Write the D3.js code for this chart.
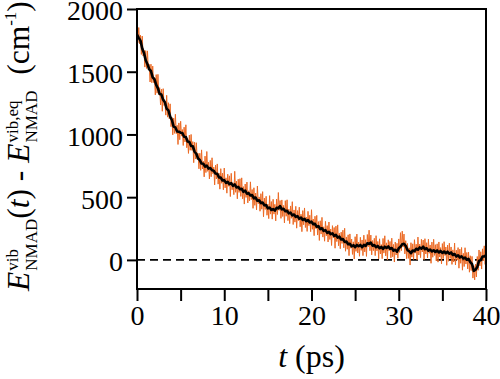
<!DOCTYPE html>
<html><head><meta charset="utf-8">
<script src="https://cdn.jsdelivr.net/npm/d3@7"></script>
<style>html,body{margin:0;padding:0;background:#fff}svg{display:block}</style>
</head><body>
<svg id="c" width="500" height="379"></svg>
<script>
const FONT = "'Liberation Serif','Times New Roman',serif";
// Time grids (ps)
const tStepBlack = 0.2;
const tStepOrange = 0.1;
// Smoothed (black) series, every 0.2 ps from 0 to 40
const blackValues = [1795,1770,1748,1685,1650,1592,1560,1520,1506,1455,
1440,1395,1368,1322,1318,1276,1256,1205,1192,1142,
1115,1062,1056,1024,1022,1014,1012,982,980,944,
940,908,906,862,846,808,796,768,766,744,
752,728,732,714,711,688,686,658,656,633,
636,614,622,603,612,590,602,578,582,563,
567,543,552,528,532,513,517,491,497,471,
475,453,457,435,437,411,417,398,405,393,
415,411,429,403,407,388,392,371,377,355,
362,343,349,328,337,318,327,308,317,298,
305,285,287,263,269,245,252,231,237,215,
224,205,212,191,199,178,185,163,167,143,
147,125,129,108,117,101,119,109,119,101,
119,111,132,128,137,113,119,101,111,93,
103,87,105,95,107,89,95,73,81,65,
92,104,125,128,112,78,69,53,75,69,
89,81,99,89,105,85,93,73,83,67,
77,63,75,59,71,55,67,53,65,49,
59,39,47,27,37,19,29,11,19,1,
9,-17,-33,-87,-78,-57,-8,-2,27,28,37];
// Raw (orange) series, every 0.1 ps from 0 to 40
const orangeValues = [1824,1731,1852,1723,1791,1638,1784,1625,1671,1537,1668,1526,1666,1515,1559,1418,1560,1412,1545,1413,
1452,1315,1477,1329,1479,1320,1373,1235,1361,1185,1365,1231,1259,1154,1312,1138,1253,1125,1244,1062,
1136,997,1130,1009,1161,1006,1073,920,1092,958,1105,987,1039,912,1058,940,1077,894,967,849,
995,874,1000,873,943,775,938,804,934,802,849,726,850,714,877,725,786,662,827,696,
864,706,778,645,793,663,814,687,739,598,755,645,765,604,691,564,727,611,691,559,
732,574,654,532,683,587,670,505,690,559,615,520,706,539,628,487,643,538,647,506,
654,487,584,445,605,498,620,454,551,471,622,481,561,411,575,435,533,399,589,448,
502,388,528,404,544,344,493,402,507,356,444,329,512,365,465,325,483,365,443,311,
485,362,537,395,473,331,478,346,434,295,472,348,479,313,404,289,430,332,464,282,
398,301,427,253,393,313,420,264,364,225,393,280,414,258,341,227,387,273,356,225,
400,244,326,193,348,250,355,198,305,155,312,206,339,182,264,149,307,192,273,143,
302,163,246,115,273,176,258,93,269,146,279,113,212,89,221,131,237,96,252,69,
183,85,200,34,207,93,166,44,144,7,185,68,206,55,142,29,180,76,159,34,
197,64,161,28,202,105,237,73,198,40,154,74,172,34,193,72,147,9,168,47,
122,10,171,54,192,32,136,-1,160,73,147,16,173,25,123,-17,142,39,132,13,
167,60,217,74,229,102,206,48,153,10,131,12,96,-41,137,22,128,4,161,54,
125,0,182,39,126,18,164,63,158,2,169,47,137,15,165,53,119,-27,142,21,
164,36,121,-8,128,-18,143,23,98,-31,130,10,145,35,103,-43,118,-11,133,12,
103,-36,80,-17,134,-40,77,-2,98,-66,86,-27,99,-82,52,-53,97,-33,59,-72,
62,-98,33,-85,28,-145,-46,-159,-34,-136,27,-83,79,-48,65,-73,88,-7,112,-36,64];
const yTicks = [0,500,1000,1500,2000];
const xTicks = [0,5,10,15,20,25,30,35,40];
const xTickLabels = ["0","","10","","20","","30","","40"];

const blackData = blackValues.map((v,i)=>({t:i*tStepBlack, v}));
const orangeData = orangeValues.map((v,i)=>({t:i*tStepOrange, v}));

const svg = d3.select("#c");
const L=137, R=486, T=9, B=289;
const x = d3.scaleLinear().domain([0,40]).range([L,R]);
const y = d3.scaleLinear().domain([-232,2000]).range([B,T]);

// zero line
svg.append("line").attr("x1",x(0)).attr("x2",x(40)).attr("y1",y(0)).attr("y2",y(0))
  .attr("stroke","#000").attr("stroke-width",1.6).attr("stroke-dasharray","8,5");

const line = d3.line().x(d=>x(d.t)).y(d=>y(d.v));
svg.append("path").datum(orangeData).attr("d",line).attr("fill","none")
  .attr("stroke","#ec6a24").attr("stroke-width",1).attr("stroke-linejoin","round");
svg.append("path").datum(blackData).attr("d",line).attr("fill","none")
  .attr("stroke","#000").attr("stroke-width",2.6).attr("stroke-linejoin","round");

// frame
svg.append("rect").attr("x",L).attr("y",T).attr("width",R-L).attr("height",B-T)
  .attr("fill","none").attr("stroke","#000").attr("stroke-width",2);

// axes
const xAxis = d3.axisBottom(x).tickValues(xTicks).tickSize(12).tickSizeOuter(0).tickPadding(4)
  .tickFormat((d,i)=>xTickLabels[i]);
const gx = svg.append("g").attr("transform",`translate(0,${B})`).call(xAxis);
gx.attr("font-family",null).attr("font-size",null);
gx.select(".domain").remove();
gx.selectAll("line").attr("stroke","#000").attr("stroke-width",2);
gx.selectAll("text").attr("fill","#000").attr("dy","0.72em")
  .attr("font-family",FONT).attr("font-size",28);

const yAxis = d3.axisLeft(y).tickValues(yTicks).tickSize(10).tickSizeOuter(0).tickPadding(4)
  .tickFormat(d3.format("d"));
const gy = svg.append("g").attr("transform",`translate(${L},0)`).call(yAxis);
gy.attr("font-family",null).attr("font-size",null);
gy.select(".domain").remove();
gy.selectAll("line").attr("stroke","#000").attr("stroke-width",2);
gy.selectAll("text").attr("fill","#000").attr("dy","0.39em")
  .attr("font-family",FONT).attr("font-size",28);

// x label
const xl = svg.append("text").attr("x",(L+R)/2).attr("y",367).attr("text-anchor","middle")
  .attr("font-family",FONT).attr("font-size",32);
xl.append("tspan").attr("font-style","italic").text("t");
xl.append("tspan").text(" (ps)");

// y label (built piecewise, then rotated)
const yl = svg.append("g").attr("font-family",FONT);
const inner = yl.append("g");
let cur = 0;
function piece(txt, size, italic, dy){
  const t = inner.append("text").attr("x",cur).attr("y",dy).attr("font-size",size)
    .attr("font-style",italic?"italic":"normal").attr("fill","#000")
    .attr("xml:space","preserve").style("white-space","pre").text(txt);
  return t.node().getComputedTextLength();
}
function add(txt,size,italic,dy){ cur += piece(txt,size,italic,dy); }
function supsub(sup,sub){ const a=piece(sup,17,false,-11); const b=piece(sub,17,false,8); cur += Math.max(a,b); }
const M=31.5;
add("E",M,true,0); cur+=1; supsub("vib","NMAD");
add("(",M,false,0); add("t",M,true,0); add(")",M,false,0);
add(" - ",M,false,0);
add("E",M,true,0); cur+=1; supsub("vib,eq","NMAD");
add("  (cm",M,false,0); add("-1",17,false,-13); add(")",M,false,0);
inner.attr("transform",`translate(${-cur/2},0)`);
yl.attr("transform",`translate(29,${291 - cur/2}) rotate(-90)`);
</script>
</body></html>
